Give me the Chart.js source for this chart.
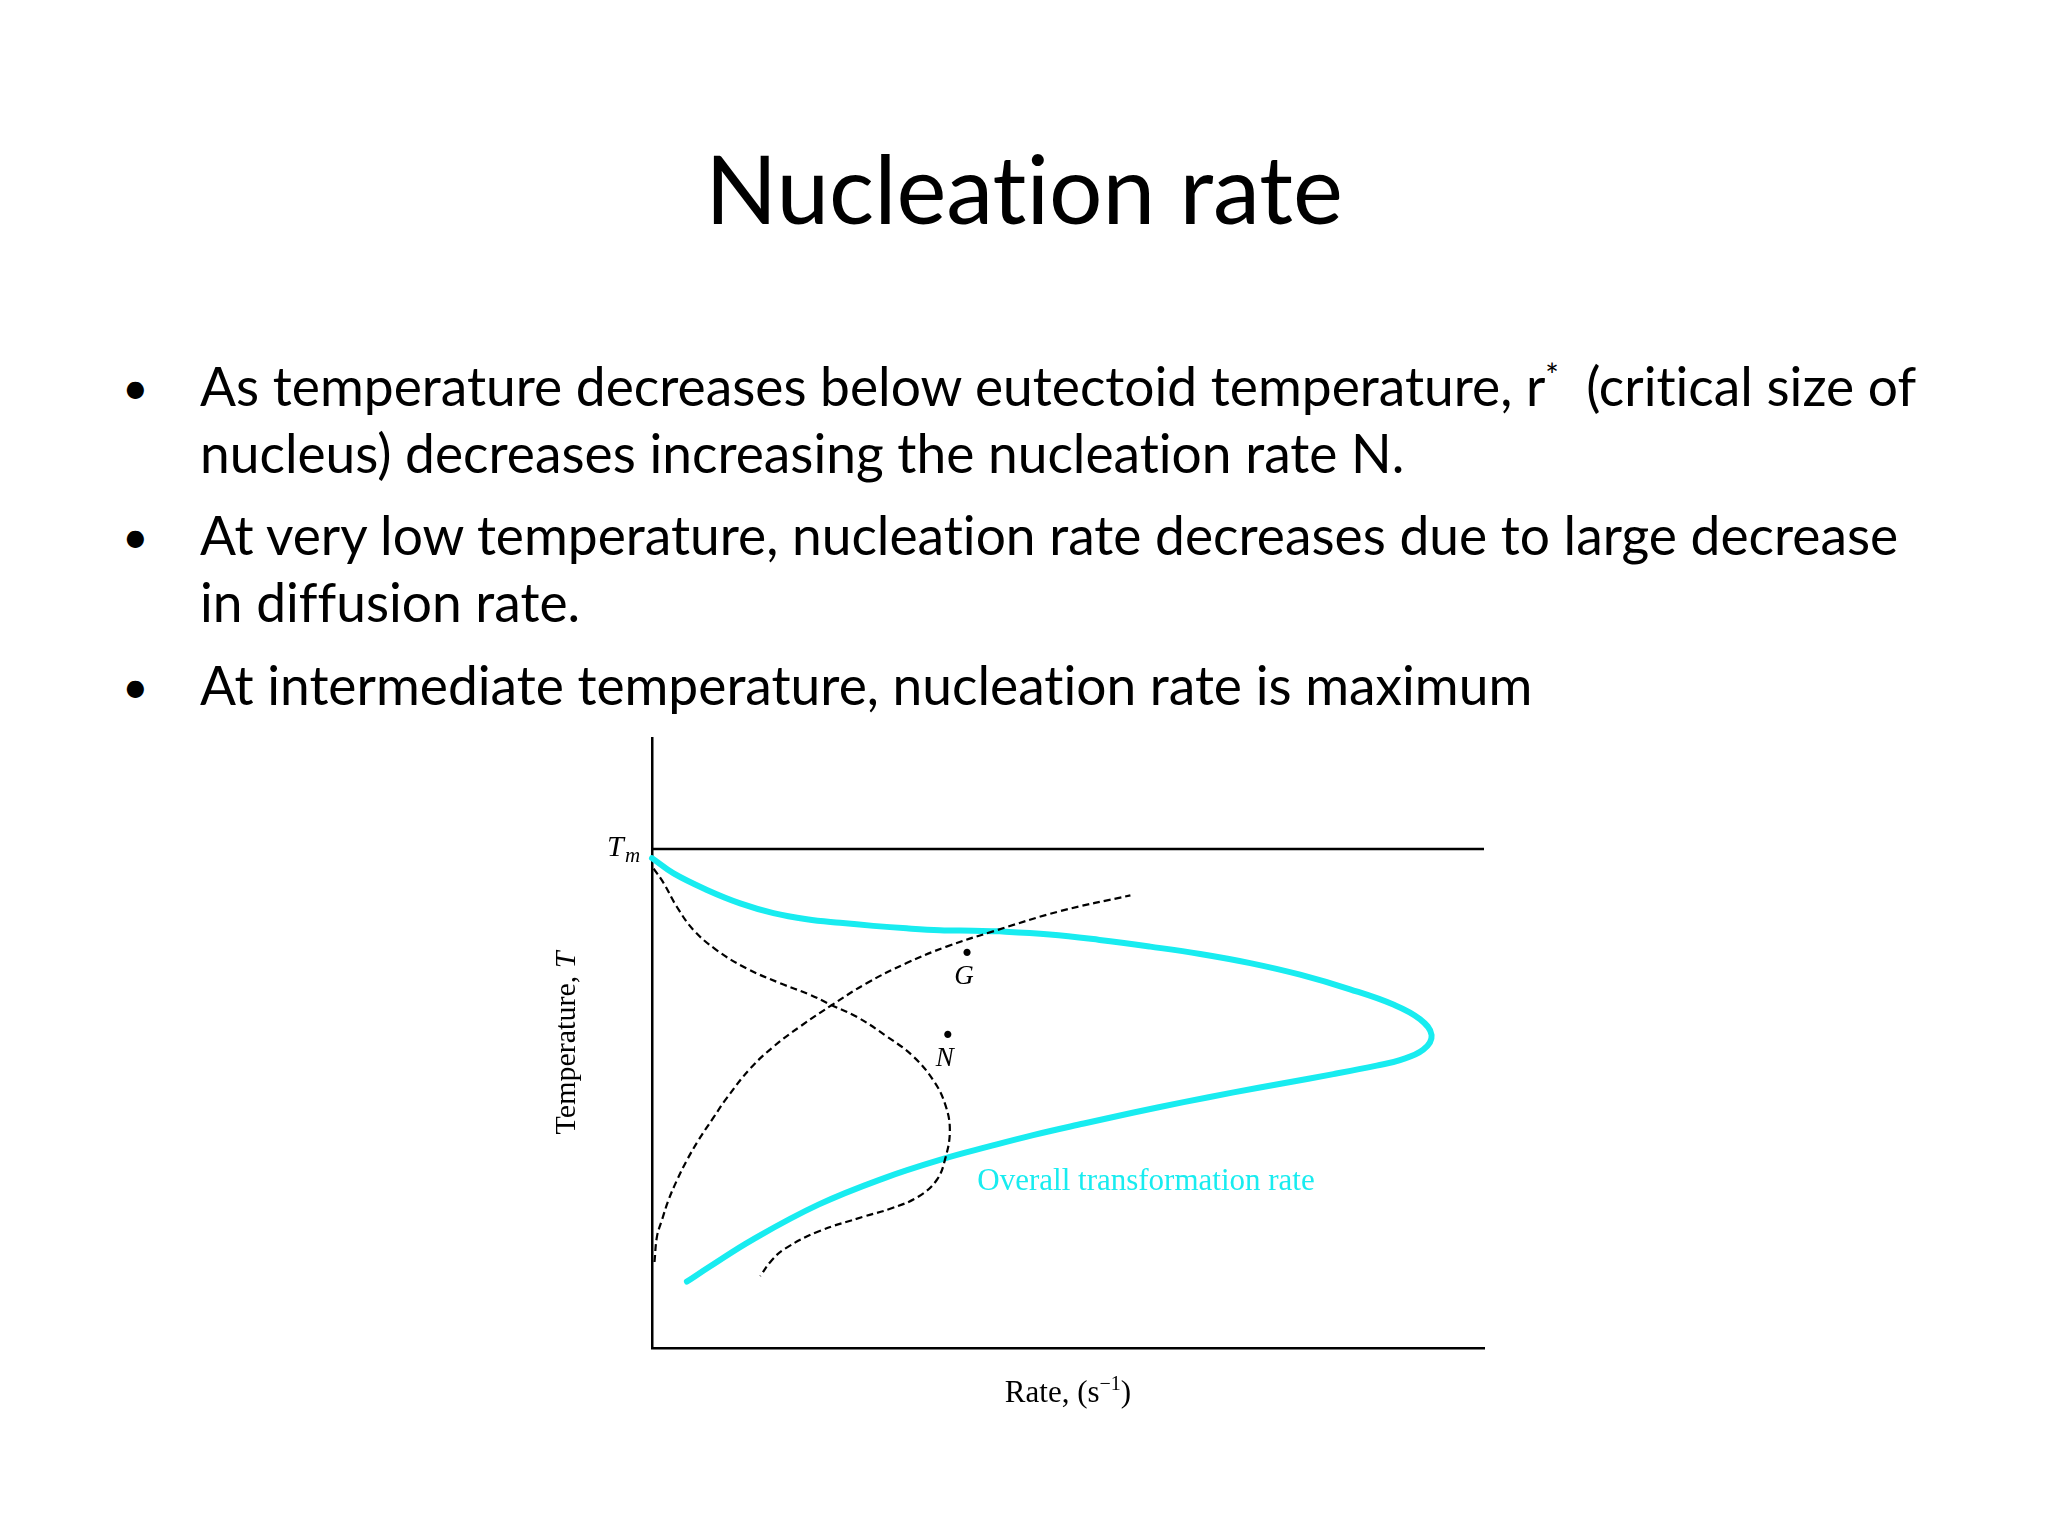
<!DOCTYPE html>
<html>
<head>
<meta charset="utf-8">
<script src="https://cdn.jsdelivr.net/npm/chart.js@4.4.0/dist/chart.umd.min.js"></script>
<style>
  html, body { margin: 0; padding: 0; background: #fff; }
  #slide { position: relative; width: 2048px; height: 1536px; overflow: hidden; font-family: Lato, "Open Sans", sans-serif; color: #000; font-variant-ligatures: none; }
  #title { position: absolute; left: 0; width: 2048px; top: 141px; text-align: center; font-size: 94.4px; line-height: 94.4px; }
  .para { position: absolute; left: 200px; font-size: 53.3px; line-height: 67px; white-space: nowrap; }
  .bullet { position: absolute; left: -78px; top: 1px; font-size: 46px; }
  sup { font-size: 60%; line-height: 0; vertical-align: 0.6em; }
  #chartBox { position: absolute; left: 500px; top: 690px; width: 1100px; height: 780px; }
</style>
</head>
<body>
<div id="slide">
  <div id="title">Nucleation rate</div>
  <div class="para" style="top:352px"><span class="bullet">•</span>As temperature decreases below eutectoid temperature, r<sup>*</sup>&nbsp; (critical size of<br>nucleus) decreases increasing the nucleation rate N.</div>
  <div class="para" style="top:501px"><span class="bullet">•</span>At very low temperature, nucleation rate decreases due to large decrease<br>in diffusion rate.</div>
  <div class="para" style="top:651px"><span class="bullet">•</span>At intermediate temperature, nucleation rate is maximum</div>
  <div id="chartBox"><canvas id="chart" width="1100" height="780"></canvas></div>
</div>
<script>
// axis ranges (arbitrary units, no ticks shown)
const rateMax = 100;
const tempMax = 100;
const tmValue = 81.8;

// overall transformation rate (cyan C-curve)
const overallRate = [0, 2.6, 6.6, 10.6, 14.6, 18.6, 22.6, 26.6, 30.6, 34.6, 38.6, 41.8, 47.8, 53.8, 59.9, 65.9, 71.9, 77.9, 83.9, 89.1, 92.3, 93.7, 92.7, 89.9, 87.1, 81.9, 75.9, 69.9, 63.9, 57.9, 51.9, 45.8, 40.4, 35.0, 28.0, 20.0, 12.0, 7.0, 4.2];
const overallTemp = [80.3, 77.8, 75.1, 72.9, 71.3, 70.3, 69.7, 69.2, 68.8, 68.5, 68.4, 68.3, 67.8, 66.9, 65.8, 64.6, 63.1, 61.2, 58.8, 56.3, 53.9, 51.3, 48.9, 47.2, 46.3, 44.9, 43.4, 41.9, 40.3, 38.6, 36.8, 34.9, 33.0, 31.0, 27.9, 23.5, 17.7, 13.4, 10.9];

// growth rate G-dot
const growthRate = [0.3, 0.6, 1.2, 2.0, 3.0, 4.2, 5.6, 7.4, 9.0, 11.8, 14.6, 17.8, 21.6, 25.8, 30.6, 35.4, 41.0, 49.0, 57.5];
const growthTemp = [14.1, 18.3, 21.0, 24.3, 27.5, 30.8, 34.1, 37.8, 41.0, 45.8, 49.4, 52.7, 56.2, 59.8, 63.1, 65.8, 68.3, 71.6, 74.2];

// nucleation rate N-dot
const nuclRate = [0.2, 1.4, 3.0, 5.0, 7.8, 11.4, 15.4, 19.0, 21.6, 24.6, 28.2, 31.4, 33.8, 35.2, 35.8, 35.2, 34.2, 32.0, 28.8, 25.6, 20.0, 16.0, 14.4, 13.0];
const nuclTemp = [78.6, 76.2, 72.3, 68.5, 65.2, 62.2, 59.8, 57.9, 56.2, 54.3, 51.1, 47.8, 43.9, 40.1, 35.7, 30.8, 27.5, 24.8, 22.9, 21.6, 19.1, 16.3, 14.4, 11.8];

// curve labels (letter, rate, temperature of baseline)
const curveLabels = ['G', 'N'];
const curveLabelRate = [37.5, 35.2];
const curveLabelTemp = [59.6, 46.2];
const overallLabel = 'Overall transformation rate';
const overallLabelRate = 39.1;
const overallLabelTemp = 25.9;

const cyan = '#18ecf0';

function toPoints(xs, ys) {
    return xs.map((x, i) => ({ x: x, y: ys[i] }));
}

// text that is not part of chart.js: Tm, curve names, axis titles
const annotations = {
    id: 'annotations',
    afterDatasetsDraw(chart) {
        const { ctx, chartArea, scales } = chart;
        const xs = scales.x, ys = scales.y;
        ctx.save();
        ctx.fillStyle = '#000';
        ctx.textBaseline = 'alphabetic';

        // Tm label
        const tmY = ys.getPixelForValue(tmValue);
        ctx.textAlign = 'left';
        ctx.font = 'italic 30px "Liberation Serif"';
        ctx.fillText('T', chartArea.left - 45, tmY + 7);
        ctx.font = 'italic 21px "Liberation Serif"';
        ctx.fillText('m', chartArea.left - 27, tmY + 13);

        // G and N with rate dot
        curveLabels.forEach((lab, i) => {
            const px = xs.getPixelForValue(curveLabelRate[i]);
            const py = ys.getPixelForValue(curveLabelTemp[i]);
            ctx.textAlign = 'center';
            ctx.font = 'italic 27px "Liberation Serif"';
            ctx.fillText(lab, px, py);
            ctx.font = 'bold 48px "Liberation Serif"';
            ctx.fillText('\u02D9', px + 3, py - 1);
        });

        // overall transformation rate
        ctx.fillStyle = cyan;
        ctx.textAlign = 'left';
        ctx.font = '31px "Liberation Serif"';
        ctx.fillText(overallLabel, xs.getPixelForValue(overallLabelRate), ys.getPixelForValue(overallLabelTemp));

        // y axis title, rotated
        ctx.fillStyle = '#000';
        ctx.save();
        ctx.translate(chartArea.left - 77, (chartArea.top + chartArea.bottom) / 2);
        ctx.rotate(-Math.PI / 2);
        ctx.font = '30px "Liberation Serif"';
        const part1 = 'Temperature, ';
        const w1 = ctx.measureText(part1).width;
        ctx.font = 'italic 30px "Liberation Serif"';
        const w2 = ctx.measureText('T').width;
        let sx = -(w1 + w2) / 2;
        ctx.textAlign = 'left';
        ctx.font = '30px "Liberation Serif"';
        ctx.fillText(part1, sx, 0);
        ctx.font = 'italic 30px "Liberation Serif"';
        ctx.fillText('T', sx + w1, 0);
        ctx.restore();

        // x axis title with superscript
        ctx.font = '31px "Liberation Serif"';
        const a = 'Rate, (s', c = ')';
        const wa = ctx.measureText(a).width, wc = ctx.measureText(c).width;
        ctx.font = '20px "Liberation Serif"';
        const b = '\u22121';
        const wb = ctx.measureText(b).width;
        const baseY = chartArea.bottom + 54;
        let tx = (chartArea.left + chartArea.right) / 2 - (wa + wb + wc) / 2;
        ctx.textAlign = 'left';
        ctx.font = '31px "Liberation Serif"';
        ctx.fillText(a, tx, baseY);
        ctx.font = '20px "Liberation Serif"';
        ctx.fillText(b, tx + wa, baseY - 12);
        ctx.font = '31px "Liberation Serif"';
        ctx.fillText(c, tx + wa + wb, baseY);

        ctx.restore();
    }
};

const ctx = document.getElementById('chart').getContext('2d');

new Chart(ctx, {
    type: 'scatter',
    data: {
        datasets: [
            {
                label: 'Tm',
                data: toPoints([0, rateMax], [tmValue, tmValue]),
                showLine: true,
                borderColor: '#000',
                borderWidth: 2.5,
                pointRadius: 0,
                tension: 0
            },
            {
                label: 'N',
                data: toPoints(nuclRate, nuclTemp),
                showLine: true,
                borderColor: '#000',
                borderWidth: 2.2,
                borderDash: [7, 4],
                pointRadius: 0,
                tension: 0.4
            },
            {
                label: 'G',
                data: toPoints(growthRate, growthTemp),
                showLine: true,
                borderColor: '#000',
                borderWidth: 2.2,
                borderDash: [7, 4],
                pointRadius: 0,
                tension: 0.4
            },
            {
                label: 'Overall transformation rate',
                data: toPoints(overallRate, overallTemp),
                showLine: true,
                borderColor: cyan,
                borderWidth: 6,
                borderCapStyle: 'round',
                pointRadius: 0,
                tension: 0.4
            }
        ]
    },
    options: {
        responsive: false,
        devicePixelRatio: 1,
        animation: false,
        clip: false,
        layout: { padding: { left: 152, top: 48, right: 116, bottom: 122 } },
        plugins: {
            legend: { display: false },
            tooltip: { enabled: false }
        },
        scales: {
            x: {
                type: 'linear',
                min: 0,
                max: rateMax,
                grid: { display: false, drawTicks: false, tickLength: 0 },
                ticks: { display: false },
                border: { display: true, color: '#000', width: 2.5 }
            },
            y: {
                type: 'linear',
                min: 0,
                max: tempMax,
                grid: { display: false, drawTicks: false, tickLength: 0 },
                ticks: { display: false },
                border: { display: true, color: '#000', width: 2.5 }
            }
        }
    },
    plugins: [annotations]
});
</script>
</body>
</html>
